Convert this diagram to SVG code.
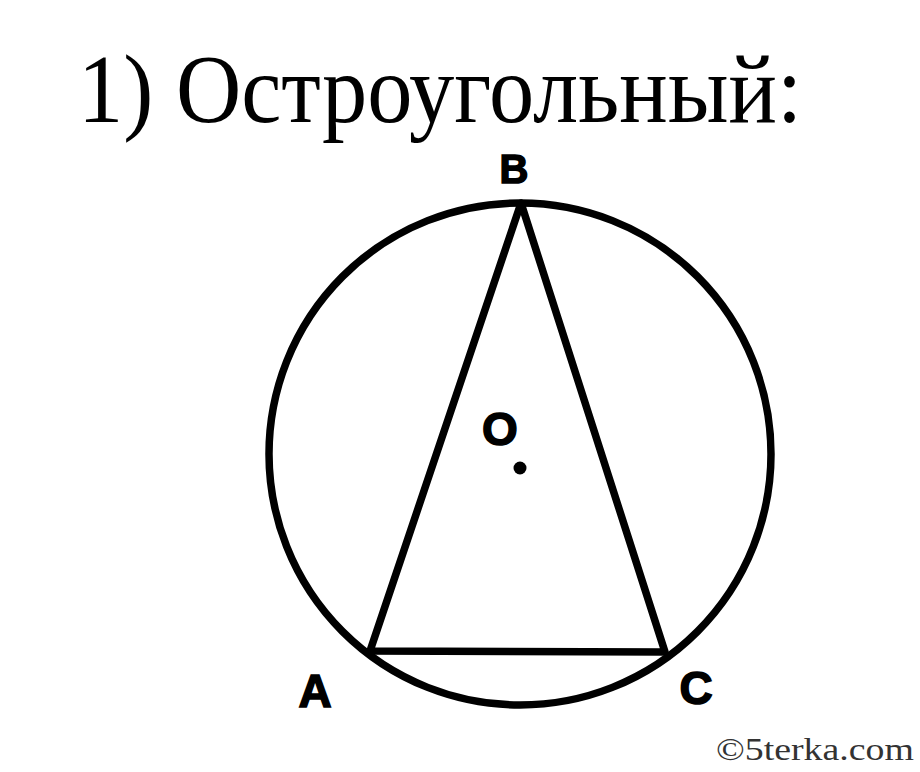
<svg xmlns="http://www.w3.org/2000/svg" width="920" height="772" viewBox="0 0 920 772">
<style>
.lbl{font-family:"Liberation Sans",Arial,sans-serif;font-weight:bold;font-size:46px;fill:#000;stroke:#000;stroke-width:1.5;text-anchor:middle}
.ln{fill:none;stroke:#000;stroke-width:7.5;stroke-linejoin:round;stroke-linecap:round}
</style>
<rect width="920" height="772" fill="#fff"/>
<text x="78" y="122" font-family="Liberation Serif,'Times New Roman',serif" font-size="98" textLength="724" lengthAdjust="spacingAndGlyphs" fill="#000">1) Остроугольный:</text>
<g id="connectors">
<circle class="ln" cx="520" cy="454" r="251"/>
<polygon class="ln" points="521,203 370,651 665,652"/>
</g>
<g id="B"><text class="lbl" x="514" y="183" style="font-size:40px">B</text></g>
<g id="O"><text class="lbl" x="500" y="445">O</text><circle cx="520" cy="468" r="6.5" fill="#000"/></g>
<g id="A"><text class="lbl" x="315" y="707">A</text></g>
<g id="C"><text class="lbl" x="696" y="704">C</text></g>
<text x="716" y="760" font-family="Liberation Serif,serif" font-size="31" textLength="198" lengthAdjust="spacingAndGlyphs" fill="#333">©5terka.com</text>
</svg>
